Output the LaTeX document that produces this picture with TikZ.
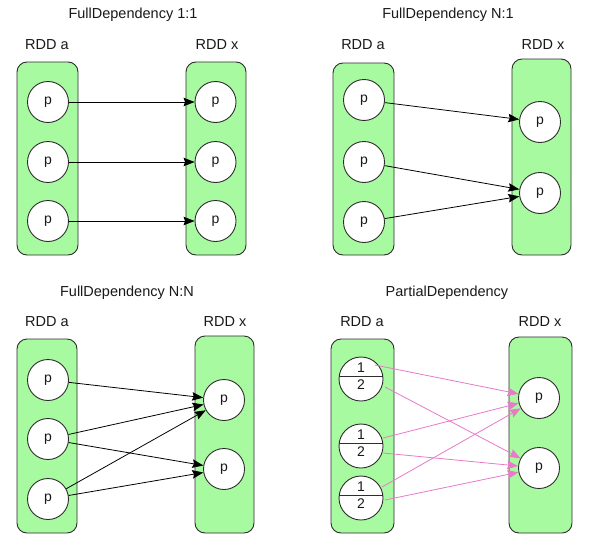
\documentclass[tikz,border=0pt]{standalone}
\usepackage{fontspec}
\setmainfont{Liberation Sans}
\usetikzlibrary{arrows.meta,calc}
\definecolor{boxgreen}{RGB}{168,250,160}
\definecolor{edgegray}{RGB}{45,45,45}
\definecolor{pinkline}{RGB}{233,122,201}
\definecolor{txt}{RGB}{25,25,25}
\begin{document}
\begin{tikzpicture}[x=1pt,y=-1pt,
  lbl/.style={inner sep=0pt,text=txt,font=\fontsize{14.5}{17}\selectfont},
  rddbox/.style={draw=edgegray,line width=0.9pt,fill=boxgreen,rounded corners=10pt,inner sep=0pt},
  pnode/.style={circle,draw=edgegray,line width=0.9pt,fill=white,minimum size=41pt,inner sep=0pt,text=txt,font=\fontsize{14}{16}\selectfont},
  snode/.style={circle,draw=edgegray,line width=0.9pt,fill=white,minimum size=44pt,inner sep=0pt},
  half/.style={inner sep=0pt,text=txt,font=\fontsize{14}{16}\selectfont},
  arr/.style={draw=black,line width=0.8pt,-{Stealth[length=11pt,width=8.5pt,inset=1.5pt]}},
  parr/.style={draw=pinkline,line width=0.8pt,-{Stealth[length=11pt,width=8.5pt,inset=1.5pt]}}]
\useasboundingbox (0,0) rectangle (593,543);
\fill[white] (0,0) rectangle (593,543);

% ---------- Q1 ----------
\node[lbl] (t1) at (133,15) {FullDependency 1:1};
\node[lbl] (la1) at (47,45) {RDD a};
\node[lbl] (lx1) at (217,45) {RDD x};
\node[rddbox,minimum width=61pt,minimum height=193pt] (A1) at (47.5,158.5) {};
\node[rddbox,minimum width=60pt,minimum height=193pt] (X1) at (216,158.5) {};
\node[pnode] (a11) at (48,102) {p};
\node[pnode] (a12) at (48,162) {p};
\node[pnode] (a13) at (48,221) {p};
\node[pnode] (x11) at (215.5,102) {p};
\node[pnode] (x12) at (215.5,162) {p};
\node[pnode] (x13) at (215.5,221) {p};
\draw[arr] (a11) -- (x11);
\draw[arr] (a12) -- (x12);
\draw[arr] (a13) -- (x13);

% ---------- Q2 ----------
\node[lbl] (t2) at (448,15) {FullDependency N:1};
\node[lbl] (la2) at (363,45) {RDD a};
\node[lbl] (lx2) at (543,45) {RDD x};
\node[rddbox,minimum width=61pt,minimum height=192pt] (A2) at (363.5,159) {};
\node[rddbox,minimum width=59pt,minimum height=196pt] (X2) at (541.5,157) {};
\node[pnode] (a21) at (364,100) {p};
\node[pnode] (a22) at (364,162) {p};
\node[pnode] (a23) at (364,222) {p};
\node[pnode] (x21) at (540,122) {p};
\node[pnode] (x22) at (540,193) {p};
\draw[arr] (a21) -- (x21);
\draw[arr] (a22) -- (x22);
\draw[arr] (a23) -- (x22);

% ---------- Q3 ----------
\node[lbl] (t3) at (127,293) {FullDependency N:N};
\node[lbl] (la3) at (47,322) {RDD a};
\node[lbl] (lx3) at (225,322) {RDD x};
\node[rddbox,minimum width=60pt,minimum height=194pt] (A3) at (47,436) {};
\node[rddbox,minimum width=59pt,minimum height=197pt] (X3) at (224.5,434.5) {};
\node[pnode] (a31) at (48,380) {p};
\node[pnode] (a32) at (48,439) {p};
\node[pnode] (a33) at (48,499) {p};
\node[pnode] (x31) at (224,400) {p};
\node[pnode] (x32) at (224,469) {p};
\draw[arr] (a31) -- (x31);
\draw[arr] (a32) -- (x31);
\draw[arr] (a32) -- (x32);
\draw[arr] (a33) -- (x31);
\draw[arr] (a33) -- (x32);

% ---------- Q4 ----------
\node[lbl] (t4) at (447,293) {PartialDependency};
\node[lbl] (la4) at (362,322) {RDD a};
\node[lbl] (lx4) at (540,322) {RDD x};
\node[rddbox,minimum width=63pt,minimum height=194pt] (A4) at (362.5,436) {};
\node[rddbox,minimum width=63pt,minimum height=196pt] (X4) at (540.5,435) {};
\foreach \n/\y in {1/379,2/446,3/498}{
  \node[snode] (s\n) at (361,\y) {};
  \draw[edgegray,line width=0.9pt] ($(s\n.center)+(-21.7,-3)$) -- ($(s\n.center)+(21.7,-3)$);
  \node[half] (s\n u) at ($(s\n.center)+(0,-11)$) {1};
  \node[half] (s\n l) at ($(s\n.center)+(0,6)$) {2};
}
\node[pnode] (x41) at (539,398) {p};
\node[pnode] (x42) at (539,468) {p};
\coordinate (u1) at (375,365);
\coordinate (d1) at (385,387);
\coordinate (u2) at (383,438);
\coordinate (d2) at (383,453);
\coordinate (u3) at (382,487);
\coordinate (d3) at (385,500);
\draw[parr] (u1) -- (x41);
\draw[parr] (d1) -- (x42);
\draw[parr] (u2) -- (x41);
\draw[parr] (d2) -- (x42);
\draw[parr] (u3) -- (x41);
\draw[parr] (d3) -- (x42);
\end{tikzpicture}
\end{document}
